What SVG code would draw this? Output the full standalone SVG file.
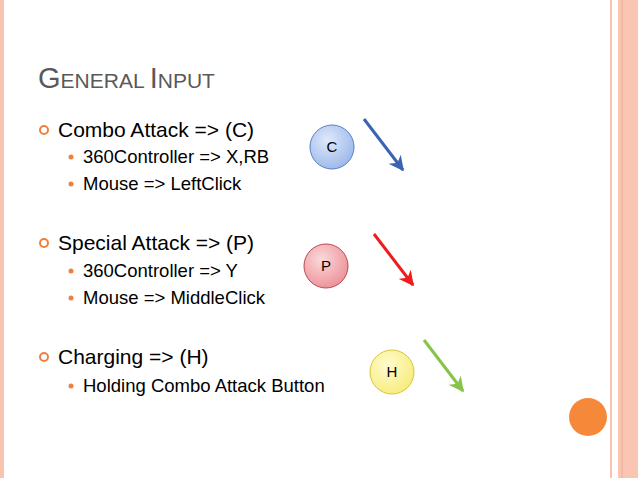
<svg xmlns="http://www.w3.org/2000/svg" width="638" height="478" viewBox="0 0 638 478">
<defs>
<style>
text{font-family:"Liberation Sans",Arial,sans-serif;fill:#000}
.l1{font-size:21px}.l2{font-size:18.5px}
.ring{fill:none;stroke:#f07f3c;stroke-width:2}
.dot{fill:#f07f3c}
.node text{font-size:15px;text-anchor:middle}
</style>
<radialGradient id="gb" cx="0.4" cy="0.35" r="0.7"><stop offset="0" stop-color="#dfe9fb"/><stop offset="1" stop-color="#9bb7ea"/></radialGradient>
<radialGradient id="gr" cx="0.4" cy="0.35" r="0.7"><stop offset="0" stop-color="#fbd9dc"/><stop offset="1" stop-color="#ec9096"/></radialGradient>
<radialGradient id="gy" cx="0.4" cy="0.35" r="0.7"><stop offset="0" stop-color="#fffbd0"/><stop offset="1" stop-color="#f7ec7a"/></radialGradient>
<marker id="mb" viewBox="0 0 10 10" refX="9" refY="5" markerWidth="5" markerHeight="5" orient="auto"><path d="M0,0L10,5L0,10L3,5z" fill="#3a63b4"/></marker>
<marker id="mr" viewBox="0 0 10 10" refX="9" refY="5" markerWidth="5" markerHeight="5" orient="auto"><path d="M0,0L10,5L0,10L3,5z" fill="#ee1c1c"/></marker>
<marker id="mg" viewBox="0 0 10 10" refX="9" refY="5" markerWidth="5" markerHeight="5" orient="auto"><path d="M0,0L10,5L0,10L3,5z" fill="#86c449"/></marker>
</defs>
<rect width="638" height="478" fill="#fff"/>
<rect x="0" y="0" width="4" height="478" fill="#f9c3b0"/>
<rect x="610" y="0" width="2" height="478" fill="#f9c3b0"/>
<rect x="618" y="0" width="20" height="478" fill="#f9c6b4"/>
<line x1="622" y1="0" x2="622" y2="478" stroke="#f4a98e" stroke-width="1"/>
<text x="38" y="88" style="fill:#595959"><tspan font-size="29">G</tspan><tspan font-size="21">ENERAL </tspan><tspan font-size="29">I</tspan><tspan font-size="21">NPUT</tspan></text>
<circle class="ring" cx="44" cy="130" r="4"/><text class="l1" x="58" y="137">Combo Attack =&gt; (C)</text>
<circle class="dot" cx="71" cy="157" r="2.5"/><text class="l2" x="83" y="163">360Controller =&gt; X,RB</text>
<circle class="dot" cx="71" cy="184" r="2.5"/><text class="l2" x="83" y="190">Mouse =&gt; LeftClick</text>
<circle class="ring" cx="44" cy="243" r="4"/><text class="l1" x="58" y="250">Special Attack =&gt; (P)</text>
<circle class="dot" cx="71" cy="271" r="2.5"/><text class="l2" x="83" y="277">360Controller =&gt; Y</text>
<circle class="dot" cx="71" cy="298" r="2.5"/><text class="l2" x="83" y="304">Mouse =&gt; MiddleClick</text>
<circle class="ring" cx="44" cy="357" r="4"/><text class="l1" x="58" y="364">Charging =&gt; (H)</text>
<circle class="dot" cx="71" cy="386" r="2.5"/><text class="l2" x="83" y="392">Holding Combo Attack Button</text>
<g id="nodeC" class="node"><circle cx="332" cy="147" r="22" fill="url(#gb)" stroke="#5a7fc4"/><text x="332" y="152">C</text></g>
<g id="nodeP" class="node"><circle cx="326" cy="266" r="22" fill="url(#gr)" stroke="#b74a4f"/><text x="326" y="271">P</text></g>
<g id="nodeH" class="node"><circle cx="392" cy="372" r="22" fill="url(#gy)" stroke="#d8c43a"/><text x="392" y="377">H</text></g>
<g id="nodeO"><circle cx="588" cy="417" r="19" fill="#f6883a"/></g>
<g id="connectors" stroke-width="3" fill="none">
<line x1="364" y1="119" x2="403" y2="170" stroke="#3a63b4" marker-end="url(#mb)"/>
<line x1="374" y1="234" x2="413" y2="285" stroke="#ee1c1c" marker-end="url(#mr)"/>
<line x1="424" y1="340" x2="463" y2="391" stroke="#86c449" marker-end="url(#mg)"/>
</g>
</svg>
